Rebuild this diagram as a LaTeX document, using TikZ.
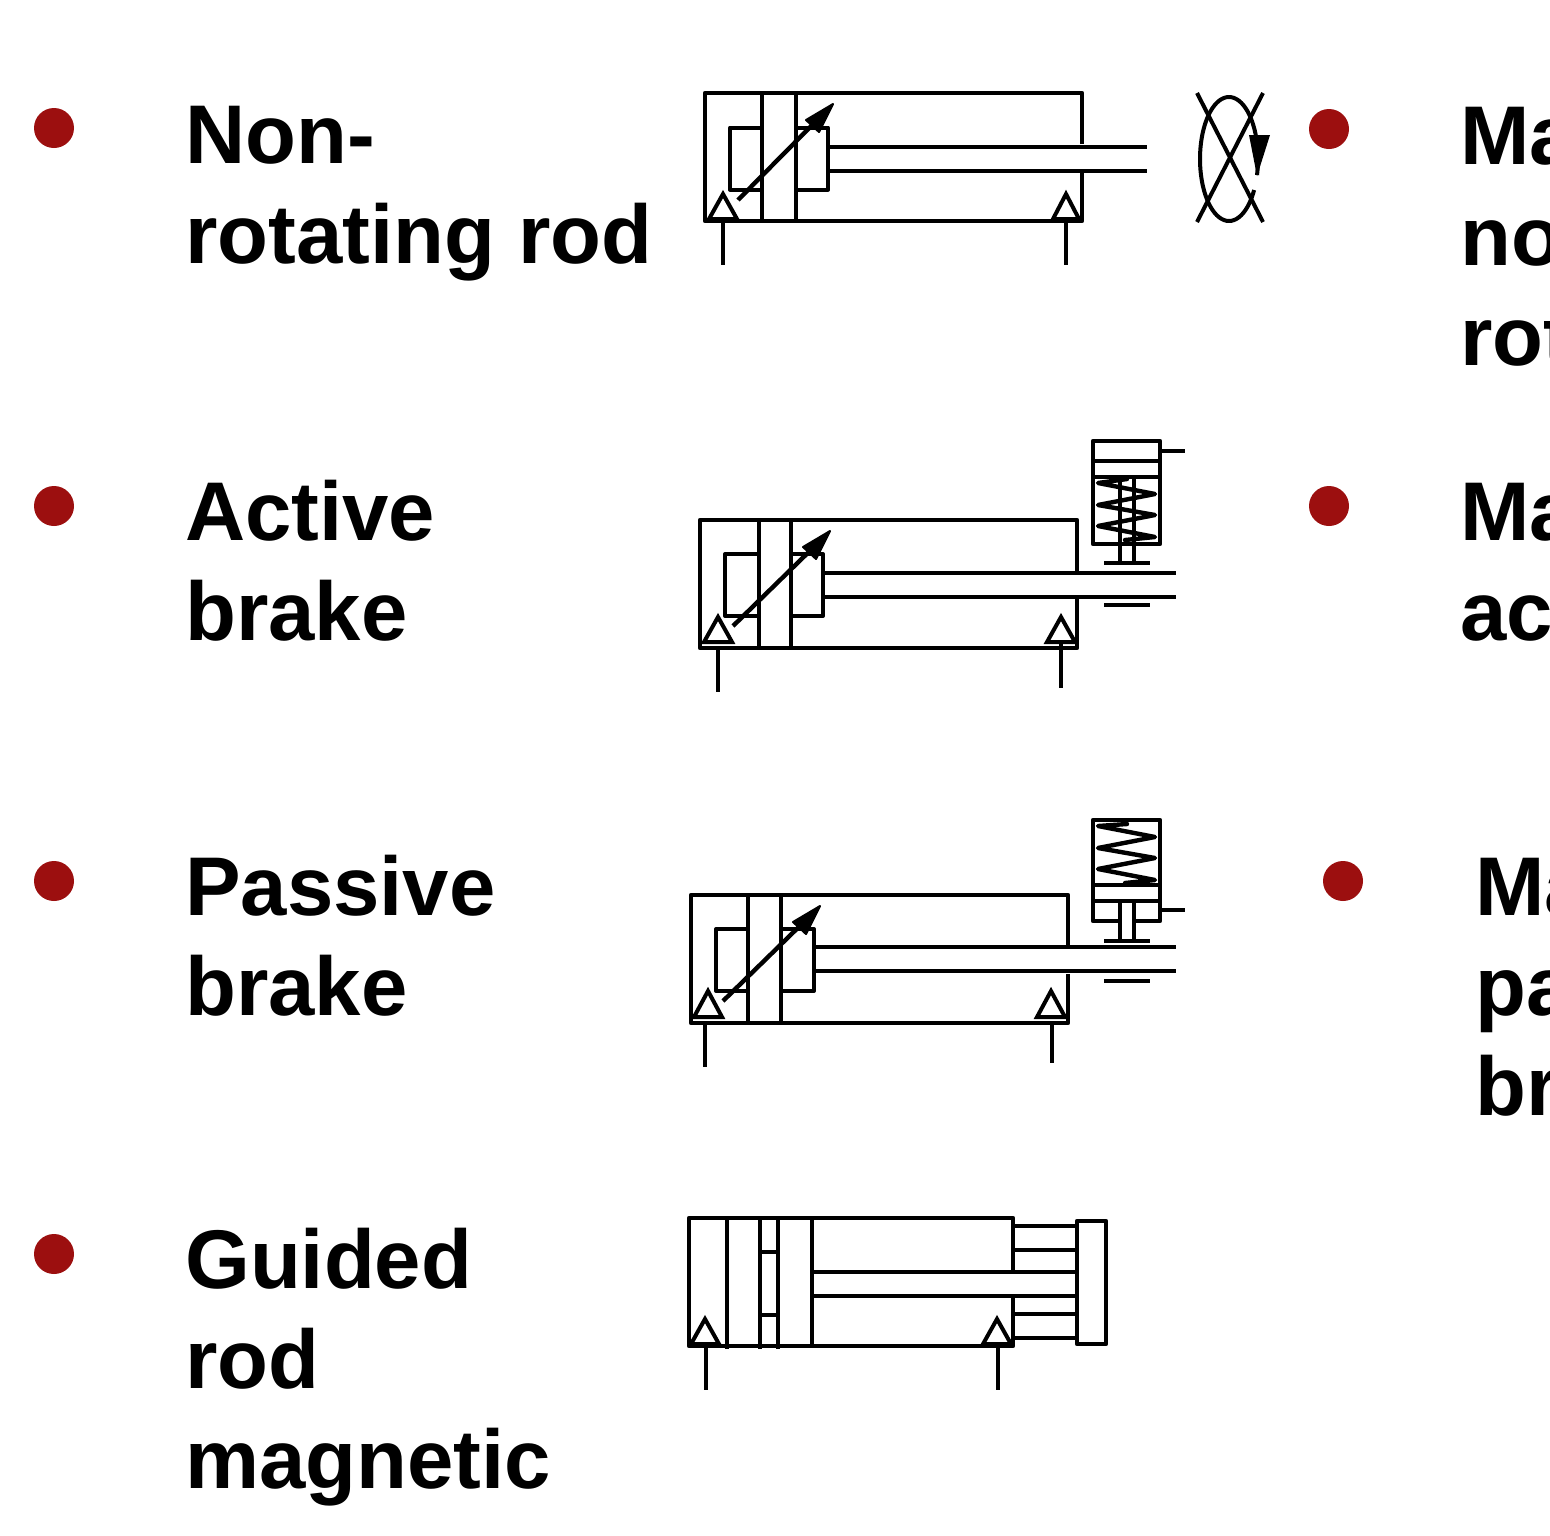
\documentclass[tikz,border=0pt]{standalone}
\usepackage{fontspec}
\setmainfont{Liberation Sans}
\definecolor{bulletred}{HTML}{9C0F0F}
\tikzset{
  x=1pt,y=-1pt,
  sym/.style={line width=4.4pt,line cap=butt,line join=round,draw=black},
  thin sym/.style={line width=4pt,line cap=butt,line join=round,draw=black},
  bullet/.style={circle,fill=bulletred,draw=none,minimum size=40pt,inner sep=0pt},
  label text/.style={font=\fontsize{83.3}{101}\selectfont\bfseries,anchor=base west,inner sep=0pt,text=black},
  spring/.style={line width=4.4pt,line cap=round,line join=round,draw=black},
}
\newcommand{\tri}[4]{% apex x, apex y, half width, base y
  \draw[thin sym,line join=miter] (#1,#2) -- (#1+#3,#4) -- (#1-#3,#4) -- cycle;
}
\newcommand{\headarrow}[4]{% start x,y tip x,y
  \draw[sym] (#1,#2) -- (#3-10,#4+10);
  \filldraw[black,line width=2pt,line join=round] (#3-1,#4+1) -- (#3-28,#4+17) -- (#3-15,#4+29) -- cycle;
}
\begin{document}
\begin{tikzpicture}
\path[use as bounding box,clip] (0,0) rectangle (1550,1535);
\fill[white] (0,0) rectangle (1550,1535);

% bullets
\node[bullet] (b1) at (54,128) {};
\node[bullet] (b2) at (54,506) {};
\node[bullet] (b3) at (54,881) {};
\node[bullet] (b4) at (54,1254) {};
\node[bullet] (b5) at (1329,129) {};
\node[bullet] (b6) at (1329,506) {};
\node[bullet] (b7) at (1343,881) {};

% labels, left column
\node[label text] (t1a) at (185,163) {Non-};
\node[label text] (t1b) at (185,263) {rotating rod};
\node[label text] (t2a) at (185,540) {Active};
\node[label text] (t2b) at (185,640) {brake};
\node[label text] (t3a) at (185,915) {Passive};
\node[label text] (t3b) at (185,1015) {brake};
\node[label text] (t4a) at (185,1288) {Guided};
\node[label text] (t4b) at (185,1388) {rod};
\node[label text] (t4c) at (185,1488) {magnetic};
% labels, right column (cut by the picture's edge)
\node[label text] (t5a) at (1460,164) {Ma};
\node[label text] (t5b) at (1460,265) {no};
\node[label text] (t5c) at (1460,365) {rot};
\node[label text] (t6a) at (1460,540) {Ma};
\node[label text] (t6b) at (1460,640) {ac};
\node[label text] (t7a) at (1475,915) {Ma};
\node[label text] (t7b) at (1475,1015) {pa};
\node[label text] (t7c) at (1475,1115) {br};

% ---------- cylinder 1
\draw[sym] (1082,144) -- (1082,93) -- (705,93) -- (705,221) -- (1082,221) -- (1082,173);
\draw[thin sym] (762,93) -- (762,223);
\draw[thin sym] (796,93) -- (796,223);
\draw[thin sym] (762,127.5) -- (730,127.5) -- (730,189.5) -- (762,189.5);
\draw[thin sym] (796,127.5) -- (828,127.5) -- (828,189.5) -- (796,189.5);
\draw[thin sym] (828,146.5) -- (1147,146.5);
\draw[thin sym] (828,170.5) -- (1147,170.5);
\tri{723}{194}{14}{219}
\tri{1066}{194}{13}{219}
\draw[thin sym] (723,221) -- (723,265);
\draw[thin sym] (1066,221) -- (1066,265);
\headarrow{738}{200}{834}{103}
% rotation symbol
\draw[thin sym] (1197,93) -- (1263,222);
\draw[thin sym] (1263,93) -- (1197,222);
\draw[thin sym] plot[smooth,samples=70,domain=30:375] ({1229+29*cos(\x)},{159+62*sin(\x)});
\fill[black] (1249,135) -- (1270,135) -- (1257,176) -- cycle;

% ---------- cylinder 2
\draw[sym] (1077,571) -- (1077,520) -- (700,520) -- (700,648) -- (1077,648) -- (1077,599);
\draw[thin sym] (759,520) -- (759,648);
\draw[thin sym] (791,520) -- (791,648);
\draw[thin sym] (759,554) -- (725,554) -- (725,616) -- (759,616);
\draw[thin sym] (791,554) -- (823,554) -- (823,616) -- (791,616);
\draw[thin sym] (823,573) -- (1176,573);
\draw[thin sym] (823,597) -- (1176,597);
\tri{718}{617}{14}{642}
\tri{1061}{617}{14}{642}
\draw[thin sym] (718,648) -- (718,692);
\draw[thin sym] (1061,642) -- (1061,688);
\headarrow{733}{626}{831}{530}
% brake 2
\draw[sym] (1093,441) rectangle (1160,544);
\draw[thin sym] (1093,461) -- (1160,461);
\draw[sym] (1093,477) -- (1160,477);
\draw[thin sym] (1160,451) -- (1185,451);
\draw[sym] (1120,477) -- (1120,563);
\draw[thin sym] (1134,477) -- (1134,563);
\draw[thin sym] (1104,563) -- (1150,563);
\draw[thin sym] (1104,605) -- (1150,605);
\draw[spring] (1127,479) -- (1098,483) -- (1155,494) -- (1098,505) -- (1155,515) -- (1098,526) -- (1155,537) -- (1125,540);

% ---------- cylinder 3
\draw[sym] (1068,946) -- (1068,895) -- (691,895) -- (691,1023) -- (1068,1023) -- (1068,974);
\draw[thin sym] (748,895) -- (748,1023);
\draw[thin sym] (781,895) -- (781,1023);
\draw[thin sym] (748,929) -- (716,929) -- (716,991) -- (748,991);
\draw[thin sym] (781,929) -- (814,929) -- (814,991) -- (781,991);
\draw[thin sym] (814,947) -- (1176,947);
\draw[thin sym] (814,971) -- (1176,971);
\tri{708}{991}{14}{1017}
\tri{1051}{991}{14}{1017}
\draw[thin sym] (705,1023) -- (705,1067);
\draw[thin sym] (1052,1023) -- (1052,1063);
\headarrow{723}{1001}{821}{905}
% brake 3
\draw[sym] (1119,921) -- (1093,921) -- (1093,820) -- (1160,820) -- (1160,921) -- (1134,921);
\draw[sym] (1093,885) -- (1160,885);
\draw[thin sym] (1093,901) -- (1160,901);
\draw[thin sym] (1160,910) -- (1185,910);
\draw[thin sym] (1120,901) -- (1120,941);
\draw[thin sym] (1134,901) -- (1134,941);
\draw[thin sym] (1104,940.5) -- (1150,940.5);
\draw[thin sym] (1104,981) -- (1150,981);
\draw[spring] (1127,824) -- (1098,826) -- (1155,837) -- (1098,848) -- (1155,858) -- (1098,869) -- (1155,880) -- (1125,883);

% ---------- cylinder 4
\draw[sym] (1013,1270) -- (1013,1218) -- (689,1218) -- (689,1346) -- (1013,1346) -- (1013,1298);
\draw[thin sym] (727,1218) -- (727,1349);
\draw[thin sym] (760,1218) -- (760,1349);
\draw[thin sym] (778,1218) -- (778,1349);
\draw[thin sym] (812,1218) -- (812,1346);
\draw[thin sym] (760,1252) -- (778,1252);
\draw[thin sym] (760,1315) -- (778,1315);
\draw[thin sym] (812,1272) -- (1077,1272);
\draw[thin sym] (812,1296) -- (1077,1296);
\draw[thin sym] (1013,1226) -- (1077,1226);
\draw[sym] (1013,1250) -- (1077,1250);
\draw[thin sym] (1013,1314) -- (1077,1314);
\draw[thin sym] (1013,1338) -- (1077,1338);
\draw[sym] (1077,1221) rectangle (1106,1344);
\tri{705}{1319}{14}{1344}
\tri{997}{1319}{14}{1344}
\draw[thin sym] (706,1346) -- (706,1390);
\draw[thin sym] (998,1346) -- (998,1390);
\end{tikzpicture}
\end{document}
